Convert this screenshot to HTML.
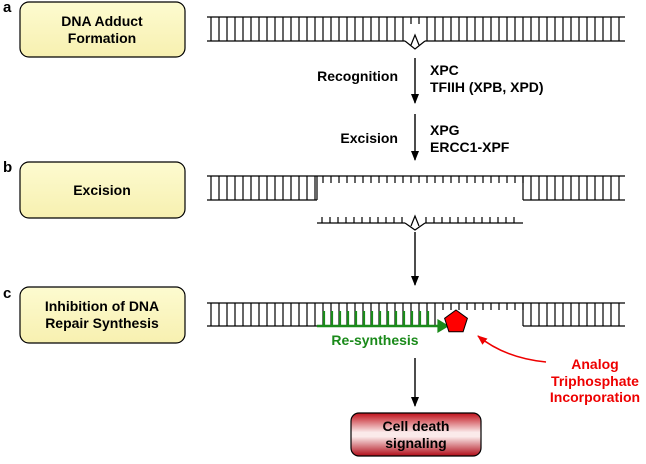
<!DOCTYPE html>
<html><head><style>
body{margin:0;background:#fff;}
svg{display:block;font-family:"Liberation Sans",sans-serif;font-weight:bold;}
</style></head><body>
<svg id="s" width="646" height="464" viewBox="0 0 646 464">
<defs>
<linearGradient id="yb" x1="0" y1="0" x2="0" y2="1"><stop offset="0" stop-color="#fdfbd0"/><stop offset="1" stop-color="#f7f0b0"/></linearGradient>
<linearGradient id="rg" x1="0" y1="0" x2="0" y2="1"><stop offset="0" stop-color="#c0101a"/><stop offset="0.45" stop-color="#fbeaea"/><stop offset="0.55" stop-color="#fbeaea"/><stop offset="1" stop-color="#b00c18"/></linearGradient>
<marker id="ah" markerWidth="10" markerHeight="10" refX="9" refY="5" orient="auto" markerUnits="userSpaceOnUse"><path d="M0,1 L10,5 L0,9 z" fill="#000"/></marker>
<marker id="ar" markerWidth="10" markerHeight="10" refX="9" refY="5" orient="auto" markerUnits="userSpaceOnUse"><path d="M0,1 L10,5 L0,9 z" fill="#e00"/></marker>
</defs>
<g font-size="14">
<text x="3" y="12" font-size="15">a</text>
<text x="3" y="172" font-size="15">b</text>
<text x="3" y="298" font-size="15">c</text>
<rect x="20" y="2" width="165" height="55" rx="9" fill="url(#yb)" stroke="#000" stroke-width="1.2"/>
<text x="102" y="26" text-anchor="middle">DNA Adduct</text>
<text x="102" y="43" text-anchor="middle">Formation</text>
<rect x="20" y="162" width="165" height="56" rx="9" fill="url(#yb)" stroke="#000" stroke-width="1.2"/>
<text x="102" y="195" text-anchor="middle">Excision</text>
<rect x="20" y="287" width="165" height="56" rx="9" fill="url(#yb)" stroke="#000" stroke-width="1.2"/>
<text x="102" y="311" text-anchor="middle">Inhibition of DNA</text>
<text x="102" y="328" text-anchor="middle">Repair Synthesis</text>
<text x="398" y="81" text-anchor="end">Recognition</text>
<text x="430" y="75">XPC</text>
<text x="430" y="92">TFIIH (XPB, XPD)</text>
<text x="398" y="143" text-anchor="end">Excision</text>
<text x="430" y="135">XPG</text>
<text x="430" y="152">ERCC1-XPF</text>
<text x="375" y="345" text-anchor="middle" fill="#1a8a1a">Re-synthesis</text>
<text x="595" y="369" text-anchor="middle" fill="#e00">Analog</text>
<text x="595" y="386" text-anchor="middle" fill="#e00">Triphosphate</text>
<text x="595" y="402" text-anchor="middle" fill="#e00">Incorporation</text>
<rect x="351" y="413" width="130" height="43" rx="8" fill="url(#rg)" stroke="#000" stroke-width="1.2"/>
<text x="416" y="431" text-anchor="middle">Cell death</text>
<text x="416" y="448" text-anchor="middle">signaling</text>
</g>
<g stroke="#000" stroke-width="1.4" fill="none">
<line x1="415" y1="58" x2="415" y2="103" marker-end="url(#ah)"/>
<line x1="415" y1="114" x2="415" y2="160" marker-end="url(#ah)"/>
<line x1="415" y1="232" x2="415" y2="285" marker-end="url(#ah)"/>
<line x1="415" y1="358" x2="415" y2="406" marker-end="url(#ah)"/>
<path d="M546,362 Q505,358 478,336" stroke="#e00" stroke-width="1.5" marker-end="url(#ar)"/>
</g>
<g id="dna" stroke="#000" stroke-width="1.2" fill="none"></g>
<polygon id="pent" fill="#f00" stroke="#000" stroke-width="1"/>
</svg>
<script>
var g=document.getElementById('dna'),h='';
function L(x1,y1,x2,y2,c,w){h+='<line x1="'+x1+'" y1="'+y1+'" x2="'+x2+'" y2="'+y2+'"'+(c?' stroke="'+c+'"':'')+(w?' stroke-width="'+w+'"':'')+'/>';}
// row a
L(207,17,625,17);L(207,41,405,41);L(425,41,625,41);
for(var x=211;x<=621;x+=8){if(x>405&&x<425){L(x,17,x,24);}else L(x,17,x,41);}
h+='<path d="M405,41 L415,49 L425,41 M411,45 L415,35 L419,45"/>';
// row b
L(207,176,625,176);L(207,200,317,200);L(523,200,625,200);L(317,176,317,200);L(523,176,523,200);
for(x=211;x<=621;x+=8){if(x<317||x>523)L(x,176,x,200);else L(x,176,x,183);}
L(317,223,405,223);L(425,223,523,223);
for(x=322;x<=518;x+=8){if(x<406||x>424)L(x,217,x,223);}
h+='<path d="M405,223 L415,230 L425,223 M411,226 L415,216 L419,226"/>';
// row c
L(207,303,625,303);L(207,326,317,326);L(523,326,625,326);L(523,303,523,326);
for(x=211;x<=621;x+=8){if(x<=437||x>523)L(x,303,x,326);else L(x,303,x,310);}
for(x=324;x<=430;x+=8)L(x,311,x,326,'#1a8a1a',2.2);
L(317,326,440,326,'#1a8a1a',2.4);
h+='<path d="M438,320 L448,326 L438,332 z" fill="#1a8a1a" stroke="#1a8a1a"/>';
g.innerHTML=h;
var p=[],cx=456,cy=322,r=12;for(var i=0;i<5;i++){var a=-Math.PI/2+i*2*Math.PI/5;p.push((cx+r*Math.cos(a)).toFixed(1)+','+(cy+r*Math.sin(a)).toFixed(1));}
document.getElementById('pent').setAttribute('points',p.join(' '));
</script>
</body></html>
